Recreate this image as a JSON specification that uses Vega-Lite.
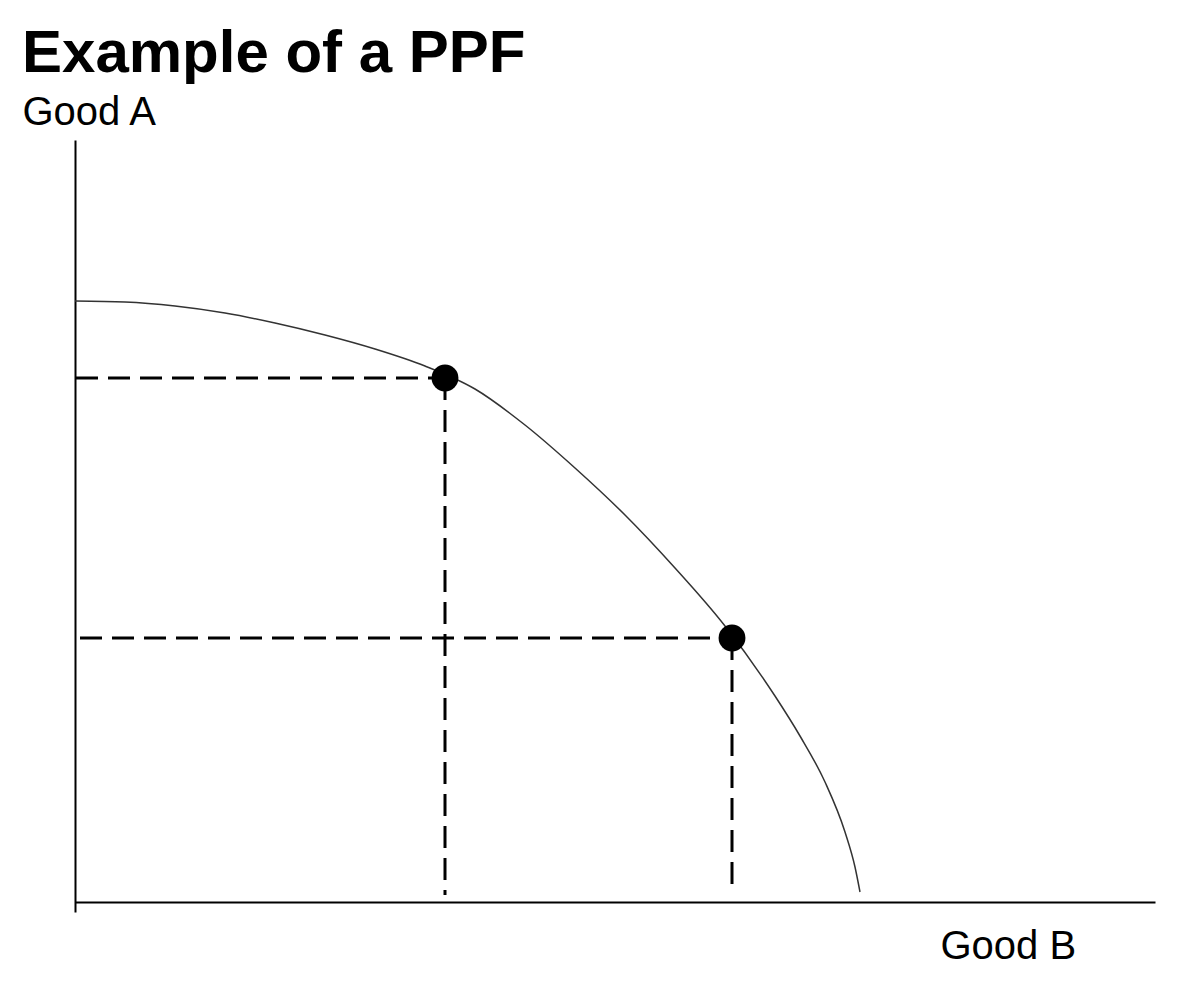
{
  "$schema": "https://vega.github.io/schema/vega-lite/v6.json",
  "width": 1080,
  "height": 772,
  "autosize": {"type": "none"},
  "padding": {"left": 75, "top": 140, "right": 45, "bottom": 87},
  "background": "white",
  "title": {
    "text": "Example of a PPF",
    "anchor": "start",
    "frame": "group",
    "font": "Liberation Sans",
    "fontSize": 60,
    "fontWeight": "bold",
    "color": "black",
    "baseline": "alphabetic",
    "dx": -53,
    "offset": -40
  },
  "config": {"view": {"stroke": null}},
  "datasets": {
    "curve": [
      {"b": 0, "a": 60.1},
      {"b": 5, "a": 60.0},
      {"b": 10, "a": 59.6},
      {"b": 15, "a": 58.9},
      {"b": 20, "a": 57.9},
      {"b": 25, "a": 56.7},
      {"b": 30, "a": 55.3},
      {"b": 35, "a": 53.6},
      {"b": 40, "a": 51.3},
      {"b": 45, "a": 47.7},
      {"b": 50, "a": 43.4},
      {"b": 55, "a": 38.7},
      {"b": 60, "a": 33.4},
      {"b": 65, "a": 27.6},
      {"b": 70, "a": 20.6},
      {"b": 72.5, "a": 16.6},
      {"b": 75, "a": 12.0},
      {"b": 77, "a": 7.0},
      {"b": 78, "a": 3.5},
      {"b": 78.5, "a": 1.0}
    ],
    "points": [
      {"b": 37.0, "a": 52.4},
      {"b": 65.7, "a": 26.4}
    ],
    "guides": [
      {"b": 0.1, "b2": 37.0, "a": 52.4, "a2": 52.4},
      {"b": 37.0, "b2": 37.0, "a": 52.4, "a2": 0.7},
      {"b": 0.5, "b2": 65.7, "a": 26.4, "a2": 26.4},
      {"b": 65.7, "b2": 65.7, "a": 26.4, "a2": 1.0}
    ]
  },
  "encoding": {
    "x": {
      "field": "b",
      "type": "quantitative",
      "scale": {"domain": [0, 108], "nice": false, "zero": false},
      "axis": {
        "title": "Good B",
        "orient": "bottom",
        "offset": -10,
        "domainColor": "black",
        "domainWidth": 2,
        "ticks": false,
        "labels": false,
        "grid": false,
        "titleFont": "Liberation Sans",
        "titleFontSize": 40,
        "titleFontWeight": "normal",
        "titleColor": "black",
        "titleAlign": "left",
        "titleBaseline": "alphabetic",
        "titleX": 865,
        "titleY": 56
      }
    },
    "y": {
      "field": "a",
      "type": "quantitative",
      "scale": {"domain": [-1, 76.2], "nice": false, "zero": false},
      "axis": {
        "title": "Good A",
        "domainColor": "black",
        "domainWidth": 2,
        "ticks": false,
        "labels": false,
        "grid": false,
        "titleFont": "Liberation Sans",
        "titleFontSize": 40,
        "titleFontWeight": "normal",
        "titleColor": "black",
        "titleAngle": 0,
        "titleAlign": "left",
        "titleBaseline": "alphabetic",
        "titleX": -53,
        "titleY": -16
      }
    }
  },
  "layer": [
    {
      "data": {"name": "guides"},
      "mark": {"type": "rule", "strokeDash": [22, 10], "strokeWidth": 3, "color": "black"},
      "encoding": {
        "x2": {"field": "b2"},
        "y2": {"field": "a2"}
      }
    },
    {
      "data": {"name": "curve"},
      "mark": {"type": "line", "interpolate": "monotone", "strokeWidth": 1.5, "color": "#333333"},
      "encoding": {}
    },
    {
      "data": {"name": "points"},
      "mark": {"type": "circle", "size": 720, "color": "black", "opacity": 1},
      "encoding": {}
    }
  ]
}
